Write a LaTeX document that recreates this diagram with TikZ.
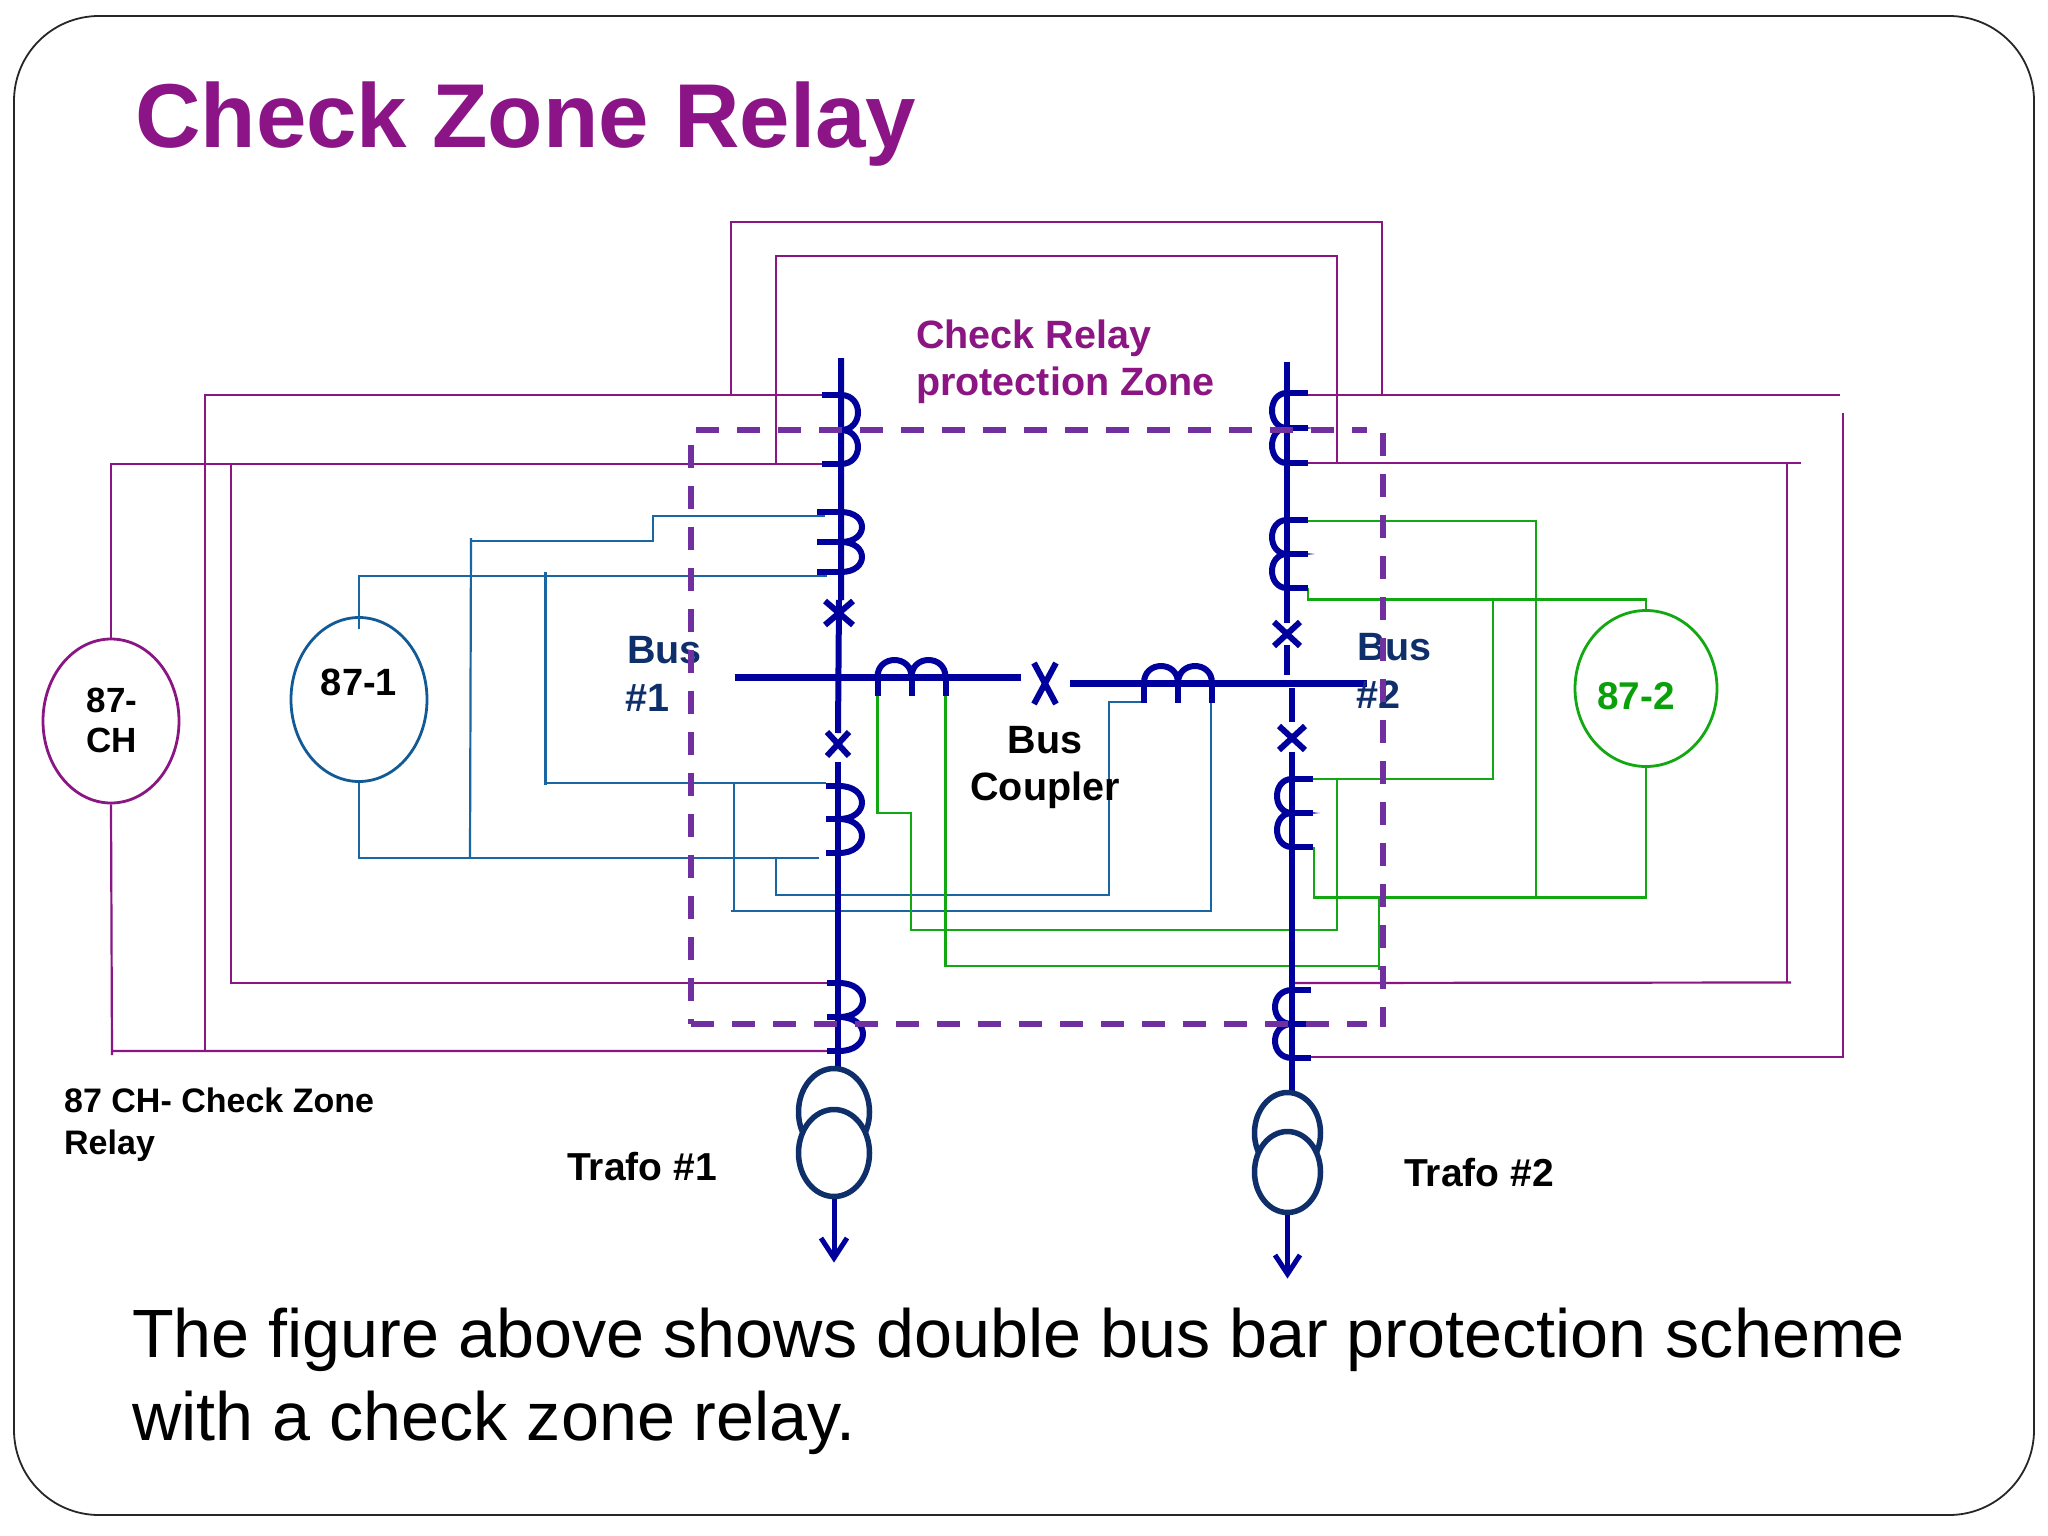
\documentclass[tikz,border=0pt]{standalone}
\usepackage{fontspec}
\setmainfont{Liberation Sans}
\usetikzlibrary{shapes.geometric}
\definecolor{busblue}{HTML}{00009C}
\definecolor{navy}{HTML}{0F2F6B}
\definecolor{wiremag}{HTML}{8A1583}
\definecolor{titlemag}{HTML}{8B1487}
\definecolor{wireblue}{HTML}{1A66A3}
\definecolor{relayblue}{HTML}{125A96}
\definecolor{wiregreen}{HTML}{12A812}
\definecolor{textgreen}{HTML}{0AA00A}
\definecolor{zonepurple}{HTML}{7030A0}
\newcommand{\fsz}[1]{\fontsize{#1}{#1}\selectfont}
\tikzset{
  bus/.style={draw=busblue,line width=6pt},
  hbus/.style={draw=busblue,line width=7pt},
  coilline/.style={draw=busblue,line width=6pt},
  mag/.style={draw=wiremag,line width=2.2pt},
  bluew/.style={draw=wireblue,line width=2.2pt},
  greenw/.style={draw=wiregreen,line width=2.2pt},
  zone/.style={draw=zonepurple,line width=6pt,dash pattern=on 23pt off 18pt},
  lab/.style={anchor=base west,inner sep=0pt,font=\bfseries\fsz{39.5}},
  relay/.style={ellipse,inner sep=0pt,fill=white,line width=2.8pt,minimum width=136pt,minimum height=164pt,align=center,font=\bfseries\fsz{36}},
  xfmr/.style={ellipse,inner sep=0pt,fill=white,draw=navy,line width=5.5pt}
}
% name, axis x, tick end x, y1, y2, y3, bulge x
\newcommand{\ctcoil}[7]{%
  \pgfmathsetmacro{\cpx}{#2+1.333*(#7-#2)}%
  \draw[coilline] (#3,#4)--(#2,#4) (#3,#5)--(#2,#5) (#3,#6)--(#2,#6);
  \draw[coilline] (#2,#4) .. controls (\cpx,#4) and (\cpx,#5) .. (#2,#5)
                  .. controls (\cpx,#5) and (\cpx,#6) .. (#2,#6);
}
% x1, x2, x3, y axis, tick end y, top y
\newcommand{\hcoil}[6]{%
  \pgfmathsetmacro{\cpy}{#4+1.333*(#6-#4)}%
  \draw[coilline] (#1,#5)--(#1,#4) (#2,#5)--(#2,#4) (#3,#5)--(#3,#4);
  \draw[coilline] (#1,#4) .. controls (#1,\cpy) and (#2,\cpy) .. (#2,#4)
                  .. controls (#2,\cpy) and (#3,\cpy) .. (#3,#4);
}
\newcommand{\brk}[4]{%
  \draw[coilline] (#1-#3,#2-#4)--(#1+#3,#2+#4) (#1+#3,#2-#4)--(#1-#3,#2+#4);
}
\begin{document}
\begin{tikzpicture}[x=1pt,y=-1pt]
\useasboundingbox (0,0) rectangle (2048,1536);
\fill[white] (0,0) rectangle (2048,1536);
\draw[draw=black!85,line width=1.8pt,rounded corners=85pt] (14,16) rectangle (2034,1515);

\node[lab,font=\bfseries\fsz{90.7},text=titlemag] (title) at (135,148) {Check Zone Relay};

% relays
\node[relay,draw=wiremag] (rc) at (111,721) {};
\node[relay,draw=relayblue] (r1) at (359,699.5) {};
\node[relay,draw=wiregreen,minimum width=142pt,minimum height=156pt] (r2) at (1646,688.5) {};

% coil terminals
\coordinate (A1a) at (822,395); \coordinate (A1c) at (822,464);
\coordinate (A2a) at (825,516); \coordinate (A2c) at (827,576);
\coordinate (A3a) at (826,783); \coordinate (A3c) at (819,858);
\coordinate (A4a) at (827,983); \coordinate (A4c) at (827,1051);
\coordinate (B1a) at (1308,395); \coordinate (B1c) at (1308,463);
\coordinate (B2a) at (1308,521); \coordinate (B2c) at (1308,588);
\coordinate (B3a) at (1313,779); \coordinate (B3c) at (1314,847);
\coordinate (B4a) at (1295,983); \coordinate (B4c) at (1294,1057);

% magenta wires
\draw[mag] (A1a) -| (205,1051) (A1c) -- (111,464) -- (rc.north);
\draw[mag] (rc.south) -- (112,1055) (112,1051) -- (A4c);
\draw[mag] (231,464) -- (231,983) -- (A4a);
\draw[mag] (731,395) -- (731,222) -- (1382,222) -- (1382,395);
\draw[mag] (776,464) -- (776,256) -- (1337,256) -- (1337,464);
\draw[mag] (B1a) -- (1840,395);
\draw[mag] (1843,413) -- (1843,1057) -- (B4c);
\draw[mag] (B1c) -- (1801,463);
\draw[mag] (1787,463) -- (1787,983);
\draw[mag] (1791,982.5) -- (B4a);

% blue wires
\draw[bluew] (A2a) -- (653,516) -- (653,541) -- (471,541);
\draw[bluew] (471,538) -- (470,858);
\draw[bluew] (A2c) -- (359,576) -- (r1.north) -- (359,629);
\draw[bluew] (r1.south) -- (359,858) -- (A3c);
\draw[bluew] (545.5,572) -- (545.5,785) (545.5,783) -- (A3a);
\draw[bluew] (734,783) -- (734,911) (731,911) -- (1211,911) -- (1211,703);
\draw[bluew] (776,858) -- (776,895) -- (1109,895) -- (1109,702) -- (1144,702);

% green wires
\draw[greenw] (877.5,696) -- (877.5,813) -- (911,813) -- (911,930) -- (1337,930) -- (1337,779);
\draw[greenw] (B3a) -- (1493,779) -- (1493,599.5);
\draw[greenw] (B2c) -- (1308,599.5) -- (1646,599.5) -- (r2.north);
\draw[greenw] (B2a) -- (1536,521) -- (1536,897.5);
\draw[greenw] (B3c) -- (1314,897.5) -- (1646,897.5) -- (r2.south);
\draw[greenw] (945.5,696) -- (945.5,966) -- (1379,966);
\draw[greenw] (1379,970) -- (1379,897.5);

% busbars and feeders
\draw[bus] (841,358) -- (841,600) (839,600) -- (838,733);
\draw[bus] (838,762) -- (838,1067);
\draw[hbus] (734.5,677) -- (1020.5,677);
\draw[bus] (1287,362) -- (1287,623) (1287,645) -- (1287,675);
\draw[hbus] (1070,683) -- (1367,683);
\draw[bus] (1292,688) -- (1292,722) (1292,752) -- (1292,1095);

% breakers
\brk{839}{613}{14}{12}
\brk{838}{744}{11}{12}
\brk{1287}{634}{13}{12}
\brk{1292}{738}{13}{12}
\brk{1045}{683.5}{11}{20.5}

% current transformers
\ctcoil{a}{841}{822}{395}{430}{464}{858}
\ctcoil{b}{841}{817}{512}{542}{572}{862}
\ctcoil{c}{839}{826}{786}{819}{853}{862}
\ctcoil{d}{839}{827}{983}{1017}{1051}{863}
\ctcoil{e}{1287}{1308}{393}{428}{463}{1272}
\ctcoil{f}{1287}{1308}{520}{554}{588}{1272}
\ctcoil{g}{1292}{1313}{779}{813}{847}{1277}
\ctcoil{h}{1292}{1311}{990}{1024}{1058}{1275}
\hcoil{877.5}{911.5}{945.5}{677}{696}{660}
\hcoil{1144}{1178}{1212}{683}{703}{666}

% transformers
\node[xfmr,minimum width=71pt,minimum height=87pt] (t1u) at (834,1112) {};
\node[xfmr,minimum width=71pt,minimum height=87pt] (t1l) at (834,1153) {};
\node[xfmr,minimum width=66pt,minimum height=81pt] (t2u) at (1287.5,1133) {};
\node[xfmr,minimum width=66pt,minimum height=81pt] (t2l) at (1287.5,1172) {};
\coordinate (t1tip) at (834,1258);
\coordinate (t2tip) at (1287.5,1274);
\draw[bus,line width=5pt] (t1l.south) -- (t1tip);
\draw[bus,line width=5pt,line join=miter] (821,1238) -- (t1tip) -- (847,1238);
\draw[bus,line width=5pt] (t2l.south) -- (t2tip);
\draw[bus,line width=5pt,line join=miter] (1275,1255) -- (t2tip) -- (1300,1255);

% labels
\node[lab,text=wiremag] (z1) at (916,348) {Check Relay};
\node[lab,text=wiremag] (z2) at (916,395) {protection Zone};
\node[lab,text=navy] (b1a) at (627,663) {Bus};
\node[lab,text=navy] (b1b) at (625,711) {\#1};
\node[lab,text=navy] (b2a) at (1357,660) {Bus};
\node[lab,text=navy] (b2b) at (1356,708) {\#2};
\node[lab,text=black,anchor=base] (bc1) at (1045,753) {Bus};
\node[lab,text=black,anchor=base] (bc2) at (1045,800) {Coupler};
\node[lab,text=black,font=\bfseries\fsz{39}] (t1n) at (567,1180) {Trafo \#1};
\node[lab,text=black,font=\bfseries\fsz{39}] (t2n) at (1404,1186) {Trafo \#2};
\node[lab,text=black,font=\bfseries\fsz{34}] (cz1) at (64,1112) {87 CH- Check Zone};
\node[lab,text=black,font=\bfseries\fsz{34}] (cz2) at (64,1154) {Relay};
\node[lab,text=black,anchor=base,font=\bfseries\fsz{35}] (rc1) at (112,712) {87-};
\node[lab,text=black,anchor=base,font=\bfseries\fsz{35}] (rc2) at (112,752) {CH};
\node[lab,text=black,anchor=base,font=\bfseries\fsz{38}] (r1t) at (359,695) {87-1};
\node[lab,text=textgreen,anchor=base,font=\bfseries\fsz{38.7}] (r2t) at (1636,709) {87-2};
\node[lab,text=black,font=\fsz{68.3}] (cap1) at (132,1357) {The figure above shows double bus bar protection scheme};
\node[lab,text=black,font=\fsz{68.3}] (cap2) at (132,1440) {with a check zone relay.};

% protection zone
\draw[zone] (696,430) -- (1367,430);
\draw[zone] (691,445) -- (691,1024);
\draw[zone] (691,1024) -- (1367,1024);
\draw[zone] (1382.6,433) -- (1382.6,1027);
\end{tikzpicture}
\end{document}
